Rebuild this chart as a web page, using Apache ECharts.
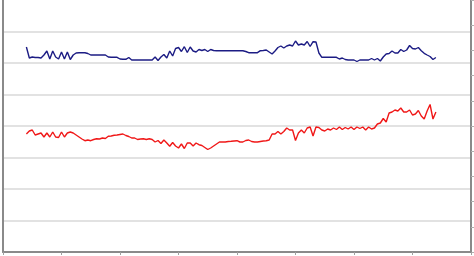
<!DOCTYPE html>
<html>
<head>
<meta charset="utf-8">
<script src="https://cdn.jsdelivr.net/npm/echarts@6/dist/echarts.min.js"></script>
<style>html,body{margin:0;padding:0;background:#fff;}#c{width:474px;height:256px;}</style>
</head>
<body>
<div id="c"></div>
<script>
// x positions (index units) of the samples, first sample index
var startIndex = 8;
var blueValues = [
205,194,195,194.5,194.5,194,197,201,193,201,195,193,200,193,200,192.5,197,199,199.3,199.3,
199.3,198.5,197,197,197,197,197,197,195,194.7,194.7,194.7,193,192.7,192.7,194.5,192,192,192,192,
192,192,192,192,195,191.5,195,197.5,194,201,196,203.5,204.5,200.5,205.3,199.5,205,201,200,202.5,
201.5,202.5,200.5,202.5,201.5,201.3,201.3,201.3,201.3,201.3,201.3,201.3,201.3,201.3,201.3,200.5,199.3,199.3,199.3,199.3,
201.3,201.5,202,200,198,201,204.5,206,204,206,207,206,211,207,208,207,210.5,205.5,210.3,210,
199,194.7,194.7,194.7,194.7,194.7,194.7,193,194,192.5,192,192,192,190.5,192,192,192,192,193.5,192,
193.5,191,195,198,198.5,201,199,199,202.5,200.5,202,206.5,203.5,203,204.5,201.3,198.7,197,195.5,192.5,
194.5
];
var redValues = [
118,121,122,117,118,119,115,119,115,120,115,114.5,120,115,119,120,119,117,115,113,
111.3,112,111.3,112.5,113.3,113,114,113.5,115.7,116,116.7,117,117.5,118,116.5,115.5,114,114,112.5,113,
113.3,112.5,113.3,112.5,110,111.5,108.5,112,109,105.7,109.5,106,104,108,103.5,109,109,106,109,107.3,
106.5,104.5,102.5,104,106,108,110,110,110,110.5,110.7,111,111.3,110,110,111.5,112,110.5,110,110,
110.5,111,111.3,112,118,118,120.5,118,120.5,124,122,122,111.5,119,122,119,124,125,116,125,
124.5,122,121,123,122,124,122.5,125,122.5,124.5,123,125,122.5,125,123.5,125,122,125,123,124,
128,129,133.5,130,139,140,142,141,144,140,140,142,137,138,141.5,136,133,141,147.5,133,
140
];

function pairs(vals) {
  var out = [];
  for (var i = 0; i < vals.length; i++) out.push([startIndex + i, vals[i]]);
  return out;
}

var chart = echarts.init(document.getElementById('c'), null, {renderer: 'canvas'});
chart.setOption({
  animation: false,
  backgroundColor: '#ffffff',
  grid: {left: 3, right: 3, top: 0, bottom: 4, containLabel: false},
  xAxis: {
    type: 'value', min: 0, max: 160, interval: 20,
    axisLine: {show: true, lineStyle: {color: '#8a8a8a', width: 2}},
    axisTick: {show: true, length: 3, lineStyle: {color: '#a0a0a0', width: 1}},
    axisLabel: {show: false},
    splitLine: {show: false}
  },
  yAxis: [{
    type: 'value', min: 0, max: 252, interval: 31.5, position: 'left',
    axisLine: {show: true, onZero: false, lineStyle: {color: '#8a8a8a', width: 2}},
    axisTick: {show: false},
    axisLabel: {show: false},
    splitLine: {show: true, showMinLine: false, showMaxLine: false, lineStyle: {color: '#d9d9d9', width: 1.5}}
  }, {
    type: 'value', min: 0, max: 100, interval: 10, position: 'right',
    axisLine: {show: true, onZero: false, lineStyle: {color: '#8a8a8a', width: 2}},
    axisTick: {show: true, inside: false, length: 3, lineStyle: {color: '#b0b0b0', width: 1}},
    axisLabel: {show: false},
    splitLine: {show: false}
  }],
  series: [{
    type: 'line', yAxisIndex: 0, data: pairs(blueValues), showSymbol: false, symbol: 'none',
    lineStyle: {color: '#1c1c84', width: 1.4}
  }, {
    type: 'line', yAxisIndex: 0, data: pairs(redValues), showSymbol: false, symbol: 'none',
    lineStyle: {color: '#f01818', width: 1.4}
  }]
});
</script>
</body>
</html>
